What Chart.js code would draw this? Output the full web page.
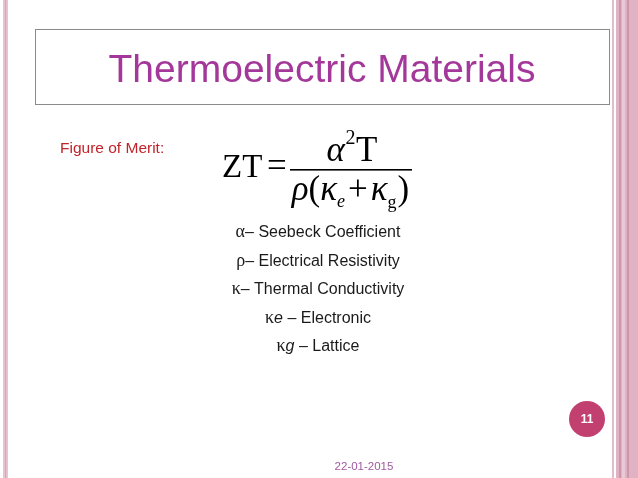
<!DOCTYPE html>
<html>
<head>
<meta charset="utf-8">
<title>Thermoelectric Materials</title>
<script src="https://cdn.jsdelivr.net/npm/chart.js@4.4.1/dist/chart.umd.min.js"></script>
<style>
  html, body { margin: 0; padding: 0; background: #fff; }
  #wrap { position: relative; width: 638px; height: 478px; }
</style>
</head>
<body>
<div id="wrap"><canvas id="slideChart"></canvas></div>
<script>
// Slide content
const slideTitle = 'Thermoelectric Materials';
const meritLabel = 'Figure of Merit:';
const listSymbols = ['α', 'ρ', 'κ', 'κ', 'κ'];
const listSubs = ['', '', '', 'e', 'g'];
const listTexts = ['– Seebeck Coefficient', '– Electrical Resistivity', '– Thermal Conductivity', ' – Electronic', ' – Lattice'];
const slideNumber = '11';
const slideDate = '22-01-2015';

const SANS = '"Liberation Sans", Arial, sans-serif';
const SERIF = '"Liberation Serif", "Times New Roman", serif';

// draw a run of text pieces, centred on cx (or starting at cx)
function drawRun(ctx, parts, cx, y, align) {
  let total = 0;
  parts.forEach(p => { ctx.font = p.font; p.w = ctx.measureText(p.t).width + (p.gap || 0); total += p.w; });
  let x = align === 'left' ? cx : cx - total / 2;
  ctx.textAlign = 'left';
  parts.forEach(p => {
    ctx.font = p.font;
    ctx.fillStyle = p.color || '#000';
    ctx.fillText(p.t, x + (p.gap || 0) / 2, y + (p.dy || 0));
    x += p.w;
  });
}

const slidePlugin = {
  id: 'slide',
  beforeDraw(chart) {
    const ctx = chart.ctx;
    ctx.save();
    ctx.fillStyle = '#ffffff';
    ctx.fillRect(0, 0, chart.width, chart.height);
    // left edge stripe
    ctx.fillStyle = '#e6c3cf';
    ctx.fillRect(3, 0, 5, chart.height);
    ctx.fillStyle = '#d7a5b6';
    ctx.fillRect(5, 0, 1, chart.height);
    // right edge band
    ctx.fillStyle = '#e3bccb';
    ctx.fillRect(612, 0, 2, chart.height);
    ctx.fillStyle = '#dfb3c3';
    ctx.fillRect(616, 0, 22, chart.height);
    ctx.fillStyle = '#cf96ab';
    ctx.fillRect(619, 0, 2, chart.height);
    ctx.fillRect(627, 0, 2, chart.height);
    ctx.fillStyle = '#e9c9d5';
    ctx.fillRect(622, 0, 3, chart.height);
    ctx.restore();
  },
  afterDraw(chart) {
    const ctx = chart.ctx;
    ctx.save();
    ctx.textBaseline = 'alphabetic';

    // title box
    ctx.strokeStyle = '#8a8a8a';
    ctx.lineWidth = 1;
    ctx.strokeRect(35.5, 29.5, 574, 75);
    ctx.fillStyle = '#a3389a';
    ctx.font = '39px ' + SANS;
    ctx.textAlign = 'center';
    ctx.fillText(slideTitle, 322, 82);

    // label
    ctx.fillStyle = '#c0242b';
    ctx.font = '15.5px ' + SANS;
    ctx.textAlign = 'left';
    ctx.fillText(meritLabel, 60, 153);

    // formula  ZT = a^2 T / rho(ke + kg)
    const it = 'italic 35px ' + SERIF;
    const up = '35px ' + SERIF;
    drawRun(ctx, [{ t: 'ZT', font: '33px ' + SERIF }], 222, 177, 'left');
    drawRun(ctx, [{ t: '=', font: up }], 267, 177, 'left');
    ctx.fillStyle = '#000';
    ctx.fillRect(290, 169, 122, 1.6);
    drawRun(ctx, [
      { t: 'α', font: it },
      { t: '2', font: '20px ' + SERIF, dy: -17, gap: 1 },
      { t: 'T', font: up }
    ], 352, 161);
    drawRun(ctx, [
      { t: 'ρ', font: it },
      { t: '(', font: up },
      { t: 'κ', font: it },
      { t: 'e', font: 'italic 18px ' + SERIF, dy: 7 },
      { t: '+', font: up, gap: 6 },
      { t: 'κ', font: it },
      { t: 'g', font: '18px ' + SERIF, dy: 8 },
      { t: ')', font: up, gap: 2 }
    ], 351, 200);

    // list of symbols
    listSymbols.forEach((s, i) => {
      const parts = [{ t: s, font: '18px ' + SERIF, color: '#1a1a1a' }];
      if (listSubs[i]) parts.push({ t: listSubs[i], font: 'italic 16px ' + SANS, color: '#1a1a1a' });
      parts.push({ t: listTexts[i], font: '16px ' + SANS, color: '#1a1a1a' });
      drawRun(ctx, parts, 318, 237 + i * 28.5);
    });

    // slide number badge
    ctx.fillStyle = '#c2406f';
    ctx.beginPath();
    ctx.arc(587, 419, 18, 0, Math.PI * 2);
    ctx.fill();
    ctx.fillStyle = '#ffffff';
    ctx.font = 'bold 12px ' + SANS;
    ctx.textAlign = 'center';
    ctx.fillText(slideNumber, 587, 423);

    // date
    ctx.fillStyle = '#a159a0';
    ctx.font = '11.5px ' + SANS;
    ctx.fillText(slideDate, 364, 470);
    ctx.restore();
  }
};

new Chart(document.getElementById('slideChart'), {
  type: 'scatter',
  data: { datasets: [] },
  options: {
    responsive: true,
    maintainAspectRatio: false,
    animation: false,
    layout: { padding: 0 },
    plugins: { legend: { display: false }, tooltip: { enabled: false }, title: { display: false } },
    scales: { x: { display: false }, y: { display: false } }
  },
  plugins: [slidePlugin]
});
</script>
</body>
</html>
